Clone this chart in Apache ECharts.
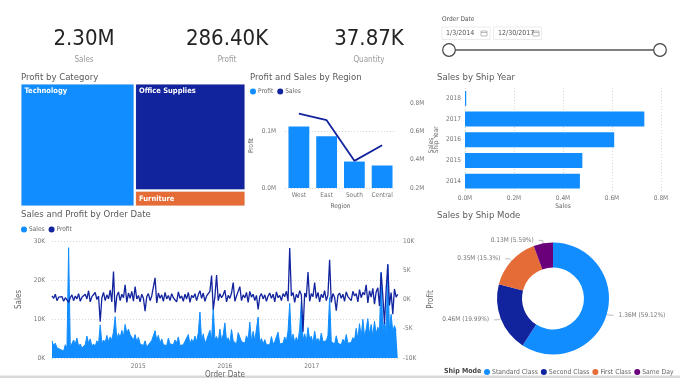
<!DOCTYPE html>
<html><head><meta charset="utf-8">
<script src="https://cdn.jsdelivr.net/npm/echarts@6/dist/echarts.min.js"></script>
<style>html,body{margin:0;padding:0;background:#fff}#c{width:680px;height:378px}</style>
</head><body><div id="c"></div>
<script>
const FONT = "'Liberation Sans Narrow','Arial Narrow','DejaVu Sans Condensed','Liberation Sans',sans-serif";
const KPI_FONT = "'DejaVu Sans Condensed','Liberation Sans Narrow','Roboto',sans-serif";
const palette = ['#118DFF', '#12239E', '#E66C37', '#6B007B'];

// KPI cards
const kpiValues = ['2.30M', '286.40K', '37.87K'];
const kpiLabels = ['Sales', 'Profit', 'Quantity'];

// Slicer
const sliceStart = '1/3/2014';
const sliceEnd = '12/30/2017';

// Profit by Category (K)
const categories = ['Technology', 'Office Supplies', 'Furniture'];
const categoryProfitK = [145.45, 122.49, 18.45];

// Profit and Sales by Region (M)
const regions = ['West', 'East', 'South', 'Central'];
const regionProfitM = [0.1084, 0.0915, 0.0467, 0.0397];
const regionSalesM = [0.7255, 0.6788, 0.3917, 0.5012];

// Sales by Ship Year (M)
const shipYears = ['2014', '2015', '2016', '2017', '2018'];
const shipYearSalesM = [0.469, 0.479, 0.609, 0.732, 0.005];

// Sales by Ship Mode (K)
const shipModes = ['Standard Class', 'Second Class', 'First Class', 'Same Day'];
const shipModeSalesK = [1358.2, 459.2, 351.4, 128.4];

// Sales and Profit by Order Date (weekly samples, K)
const orderStart = '2014-01-03';
const orderEnd = '2017-12-30';
const orderStepDays = 7;
const orderSalesK = [
 4.4,3.2,3.8,2.6,3.0,2.2,2.5,1.8,3.4,2.6,
 28.3,2.8,3.2,4.6,3.6,5.1,3.0,3.6,2.6,3.0,
 3.4,5.6,3.8,4.9,3.0,3.6,3.0,4.4,3.6,8.5,
 3.8,4.6,4.0,5.8,4.2,5.4,4.6,6.7,10.6,4.8,
 6.3,5.2,7.1,5.6,8.6,6.4,7.4,6.0,6.2,4.6,
 6.0,4.2,5.3,3.6,3.8,3.2,4.4,2.8,3.4,3.2,
 4.5,4.8,7.0,4.6,5.8,3.8,4.9,3.4,3.9,3.2,
 5.1,3.6,3.8,3.4,4.6,3.9,5.4,3.2,3.6,3.4,
 4.3,3.8,6.0,3.6,4.8,4.0,5.6,4.2,6.4,11.8,
 4.4,6.2,3.8,4.7,4.2,7.1,4.6,12.8,4.8,5.5,
 4.2,7.4,4.6,6.0,9.0,4.4,5.2,3.8,7.3,4.4,
 4.9,3.6,6.5,7.0,4.2,4.4,3.8,5.7,4.6,9.2,
 4.2,6.8,4.4,4.6,10.5,4.0,5.0,3.6,4.7,3.4,
 3.8,3.4,5.5,3.6,4.2,4.0,6.6,3.6,4.0,3.8,
 5.4,4.2,7.0,14.0,4.6,6.1,4.0,5.3,4.2,7.5,
 14.5,4.6,6.2,4.2,7.8,4.8,5.6,3.8,6.9,4.4,
 5.0,4.0,6.4,4.2,4.3,4.4,5.8,15.5,4.2,4.6,
 3.6,5.7,3.8,3.9,3.4,4.8,4.0,6.0,3.8,4.1,
 4.0,5.2,4.6,7.6,4.8,8.8,5.4,9.9,5.6,7.4,
 10.1,6.0,8.6,5.6,9.4,6.2,7.9,6.6,22.0,7.0,
 9.7,6.4,24.0,7.2,11.2,6.8,8.3,7.0,6.8
];
const orderProfitK = [
 0.6,0.2,0.9,-0.2,0.4,0.1,0.5,-0.3,0.3,0.2,
 -0.5,0.3,0.8,-0.2,0.6,0.1,1.0,-0.3,0.4,0.2,
 0.9,0.1,1.5,-0.4,0.5,0.2,1.2,0.0,0.6,-3.8,
 0.3,1.2,-0.2,0.8,0.1,1.6,-0.4,4.8,-2.2,0.6,
 1.3,-0.2,0.9,0.3,2.5,-0.5,1.1,0.2,1.4,-0.3,
 2.2,0.1,0.7,-0.4,0.9,0.2,-2.0,0.5,1.0,-0.2,
 0.6,0.3,3.7,-0.6,1.1,0.2,0.8,-0.3,1.2,0.1,
 0.7,-0.2,1.0,0.3,0.5,-0.4,1.3,0.2,0.6,-0.3,
 0.9,0.1,1.2,-0.5,0.7,0.3,1.0,-0.2,0.8,1.5,
 0.2,1.1,-0.3,0.6,0.4,1.4,4.1,-1.7,0.5,4.2,
 -0.2,1.0,0.3,0.8,1.6,-0.4,0.7,0.2,1.1,2.9,
 -0.3,0.6,0.9,2.2,-0.2,0.8,0.3,1.2,-0.5,1.4,
 0.4,0.9,-0.2,0.7,-1.7,0.5,1.0,0.1,0.8,-0.3,
 0.6,1.1,0.2,0.9,-0.4,1.3,0.3,0.7,-0.2,1.0,
 0.5,1.4,-0.3,8.8,0.6,1.2,-0.5,0.9,0.3,1.5,
 0.8,-5.5,1.1,0.4,4.7,-0.3,1.0,0.5,2.9,0.2,
 1.2,-0.4,0.9,0.3,1.5,-0.2,0.8,6.8,-0.5,1.0,
 0.4,-1.9,0.7,1.1,0.2,0.9,-0.3,1.3,0.5,0.8,
 -0.2,1.4,0.6,1.0,-0.4,1.7,0.3,1.2,0.8,2.5,
 -0.6,1.5,0.4,1.9,-0.8,1.3,2.0,-1.1,4.6,0.7,
 -4.2,1.6,6.0,-1.0,1.2,-2.5,1.8,0.4,0.9
];

const DAY = 86400000;
const t0 = Date.parse(orderStart + 'T00:00:00Z');
const salesPts = orderSalesK.map((v, i) => [t0 + i * orderStepDays * DAY, v]);
const profitPts = orderProfitK.map((v, i) => [t0 + i * orderStepDays * DAY, v]);

function T(x, y, text, size, color, align, weight, font, rotation) {
  return { type: 'text', x: x, y: y, rotation: rotation || 0, z: 10,
    style: { text: text, fill: color, font: (weight || 'normal') + ' ' + size + 'px ' + (font || FONT),
      align: align || 'left', verticalAlign: 'middle' } };
}
const graphics = [];
const kpiX = [84, 227, 369];
kpiValues.forEach((v, i) => {
  graphics.push(T(kpiX[i], 39, v, 22, '#252423', 'center', 'normal', KPI_FONT));
  graphics.push(T(kpiX[i], 60, kpiLabels[i], 8, '#9a9a9a', 'center'));
});
// slicer
graphics.push(T(442, 19.5, 'Order Date', 6.5, '#555'));
graphics.push({ type: 'rect', shape: { x: 442, y: 27, width: 48, height: 12.5 }, style: { fill: '#fff', stroke: '#ececec', lineWidth: 1 } });
graphics.push({ type: 'rect', shape: { x: 493.5, y: 27, width: 48, height: 12.5 }, style: { fill: '#fff', stroke: '#ececec', lineWidth: 1 } });
graphics.push(T(446, 33.5, sliceStart, 7, '#555'));
graphics.push(T(498, 33.5, sliceEnd, 7, '#555'));
[481, 533].forEach(x => {
  graphics.push({ type: 'rect', shape: { x: x, y: 31, width: 6, height: 5 }, style: { fill: 'none', stroke: '#aaa', lineWidth: 0.8 } });
  graphics.push({ type: 'line', shape: { x1: x, y1: 32.5, x2: x + 6, y2: 32.5 }, style: { stroke: '#aaa', lineWidth: 0.8 } });
});
graphics.push({ type: 'line', shape: { x1: 449, y1: 50, x2: 660, y2: 50 }, style: { stroke: '#555', lineWidth: 1.5 } });
[449, 660].forEach(x => graphics.push({ type: 'circle', shape: { cx: x, cy: 50, r: 6.3 }, style: { fill: '#fff', stroke: '#444', lineWidth: 1.2 } }));
// titles
graphics.push(T(21, 77.5, 'Profit by Category', 9.5, '#5a5a5a'));
graphics.push(T(250, 77.5, 'Profit and Sales by Region', 9.5, '#5a5a5a'));
graphics.push(T(437, 77.5, 'Sales by Ship Year', 9.5, '#5a5a5a'));
graphics.push(T(21, 214.5, 'Sales and Profit by Order Date', 9.5, '#5a5a5a'));
graphics.push(T(437, 216, 'Sales by Ship Mode', 9.5, '#5a5a5a'));
graphics.push(T(444, 371.5, 'Ship Mode', 7, '#444', 'left', 'bold'));
// bottom band
graphics.push({ type: 'rect', shape: { x: 0, y: 375.5, width: 680, height: 2.5 }, style: { fill: '#d9d9d9' } });

const axisLabel = { color: '#777', fontSize: 6.5, fontFamily: FONT };
const axisName = { color: '#666', fontSize: 6.5, fontFamily: FONT };
const dotted = { show: true, lineStyle: { color: '#d6d6d6', type: [1, 2], width: 1 } };
const noLine = { show: false };
const legendText = { color: '#666', fontSize: 6.5, padding: [0, 0, 0, -3] };

const option = {
  animation: false,
  useUTC: true,
  textStyle: { fontFamily: FONT },
  graphic: { elements: graphics },
  legend: [
    { data: ['Profit', 'Sales'], left: 250, top: 88, padding: 0, icon: 'circle', itemWidth: 6, itemHeight: 6, itemGap: 4,
      textStyle: legendText },
    { data: ['tSales', 'tProfit'], left: 21, top: 226, padding: 0, icon: 'circle', itemWidth: 6, itemHeight: 6, itemGap: 4,
      formatter: n => n.slice(1), textStyle: legendText },
    { data: shipModes, left: 484, top: 368.5, width: 260, padding: 0, icon: 'circle', itemWidth: 6, itemHeight: 6, itemGap: 3,
      textStyle: { color: '#666', fontSize: 6.8, padding: [0, 0, 0, -3] } }
  ],
  grid: [
    { left: 285, top: 103, width: 111, height: 85, outerBoundsMode: 'none' },
    { left: 465, top: 88, width: 196, height: 103.5, outerBoundsMode: 'none' },
    { left: 52, top: 241, width: 346, height: 117, outerBoundsMode: 'none' }
  ],
  xAxis: [
    { gridIndex: 0, type: 'category', data: regions, axisLine: noLine, axisTick: noLine,
      axisLabel: Object.assign({ margin: 4 }, axisLabel),
      name: 'Region', nameLocation: 'middle', nameGap: 15, nameTextStyle: axisName },
    { gridIndex: 1, type: 'value', min: 0, max: 0.8, interval: 0.2, axisLine: noLine, axisTick: noLine,
      axisLabel: Object.assign({ margin: 3, formatter: v => v.toFixed(1) + 'M' }, axisLabel),
      splitLine: dotted, name: 'Sales', nameLocation: 'middle', nameGap: 10, nameTextStyle: axisName },
    { gridIndex: 2, type: 'time', min: orderStart, max: orderEnd, axisLine: noLine, axisTick: noLine,
      minInterval: 365 * DAY, splitLine: noLine,
      axisLabel: Object.assign({ margin: 5, formatter: v => { const d = new Date(v); return (d.getUTCMonth() === 0 && d.getUTCDate() === 1) ? String(d.getUTCFullYear()) : ''; } }, axisLabel),
      name: 'Order Date', nameLocation: 'middle', nameGap: 13, nameTextStyle: Object.assign({}, axisName, { fontSize: 8 }) }
  ],
  yAxis: [
    { gridIndex: 0, type: 'value', min: 0, max: 0.15, interval: 0.1, axisLine: noLine, axisTick: noLine,
      axisLabel: Object.assign({ margin: 9, showMaxLabel: false, formatter: v => v.toFixed(1) + 'M' }, axisLabel),
      splitLine: Object.assign({ showMaxLine: false }, dotted),
      name: 'Profit', nameLocation: 'middle', nameGap: 30, nameTextStyle: axisName },
    { gridIndex: 0, type: 'value', position: 'right', min: 0.2, max: 0.8, interval: 0.2, axisLine: noLine, axisTick: noLine,
      axisLabel: Object.assign({ margin: 14, formatter: v => v.toFixed(1) + 'M' }, axisLabel), splitLine: noLine,
      name: 'Sales', nameLocation: 'middle', nameGap: 26, nameTextStyle: axisName },
    { gridIndex: 1, type: 'category', data: shipYears, axisLine: noLine, axisTick: noLine,
      axisLabel: Object.assign({ margin: 4 }, axisLabel),
      name: 'Ship Year', nameLocation: 'middle', nameGap: 25, nameTextStyle: axisName },
    { gridIndex: 2, type: 'value', min: 0, max: 30, interval: 10, axisLine: noLine, axisTick: noLine,
      axisLabel: Object.assign({ margin: 7, formatter: v => v + 'K' }, axisLabel), splitLine: dotted,
      name: 'Sales', nameLocation: 'middle', nameGap: 23, nameTextStyle: Object.assign({}, axisName, { fontSize: 8 }) },
    { gridIndex: 2, type: 'value', position: 'right', min: -10, max: 10, interval: 5, axisLine: noLine, axisTick: noLine,
      axisLabel: Object.assign({ margin: 5, formatter: v => v + 'K' }, axisLabel), splitLine: noLine,
      name: 'Profit', nameLocation: 'middle', nameGap: 27, nameTextStyle: Object.assign({}, axisName, { fontSize: 8 }) }
  ],
  series: [
    { type: 'treemap', left: 21, top: 84, width: 224, height: 122, roam: false, nodeClick: false,
      breadcrumb: { show: false },
      label: { show: true, position: 'insideTopLeft', color: '#fff', fontWeight: 'bold', fontSize: 7.5, fontFamily: FONT,
        padding: 0, distance: 3, lineHeight: 8, overflow: 'none' },
      levels: [{ itemStyle: { borderWidth: 0, gapWidth: 1.5 } }],
      data: categories.map((c, i) => ({ name: c, value: categoryProfitK[i], itemStyle: { color: palette[i], borderWidth: 0.5, borderColor: '#e8e8e8' } }))
    },
    { name: 'Profit', type: 'bar', xAxisIndex: 0, yAxisIndex: 0, data: regionProfitM, barCategoryGap: '25%', itemStyle: { color: palette[0] } },
    { name: 'Sales', type: 'line', xAxisIndex: 0, yAxisIndex: 1, data: regionSalesM, showSymbol: false,
      lineStyle: { color: palette[1], width: 1.8 }, itemStyle: { color: palette[1] } },
    { type: 'bar', xAxisIndex: 1, yAxisIndex: 2, data: shipYearSalesM, barCategoryGap: '28%', itemStyle: { color: palette[0] } },
    { name: 'tSales', type: 'line', xAxisIndex: 2, yAxisIndex: 3, data: salesPts, showSymbol: false, sampling: null,
      lineStyle: { color: palette[0], width: 1 }, itemStyle: { color: palette[0] },
      areaStyle: { color: palette[0], opacity: 1, origin: 'start' } },
    { name: 'tProfit', type: 'line', xAxisIndex: 2, yAxisIndex: 4, data: profitPts, showSymbol: false,
      lineStyle: { color: palette[1], width: 1.3 }, itemStyle: { color: palette[1] } },
    { type: 'pie', center: [553, 298.5], radius: [31, 56], startAngle: 90, clockwise: true,
      label: { show: true, color: '#777', fontSize: 6.5, fontFamily: FONT,
        formatter: p => (p.value / 1000).toFixed(2) + 'M (' + p.percent + '%)' },
      labelLine: { length: 3, length2: 4, lineStyle: { color: '#aaa', width: 0.8 } },
      data: shipModes.map((m, i) => ({ name: m, value: shipModeSalesK[i], itemStyle: { color: palette[i] } }))
    }
  ]
};
const chart = echarts.init(document.getElementById('c'), null, { renderer: 'canvas' });
chart.setOption(option);
</script></body></html>
